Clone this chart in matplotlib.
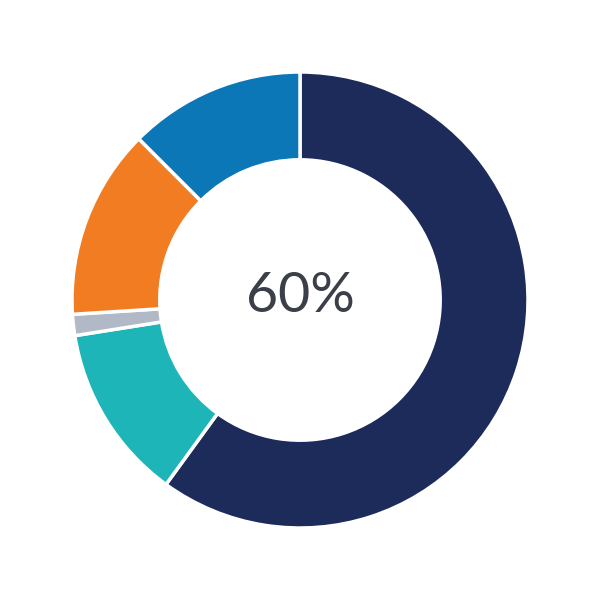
import matplotlib.pyplot as plt

# slices clockwise from 12 o'clock
labels = ['Navy', 'Teal', 'Gray', 'Orange', 'Blue']
values = [60, 12.5, 1.5, 13.5, 12.5]
colors = ['#1c2b5a', '#1db5b8', '#b1b8c6', '#f27c22', '#0b77b6']
center_text = '60%'

fig = plt.figure(figsize=(6, 6), dpi=100)
ax = fig.add_axes([0, 0, 1, 1])

ax.pie(values, colors=colors, startangle=90, counterclock=False, radius=1.0,
       wedgeprops=dict(width=0.385, edgecolor='white', linewidth=2.5))

ax.text(0, 0.015, center_text, ha='center', va='center', fontsize=40,
        family='Lato', color='#3b3f48')

lim = 300 / 228
ax.set_xlim(-lim, lim)
ax.set_ylim(-lim, lim)
ax.set_aspect('equal')
ax.axis('off')

fig.savefig('out.png', dpi=100, facecolor='white')
